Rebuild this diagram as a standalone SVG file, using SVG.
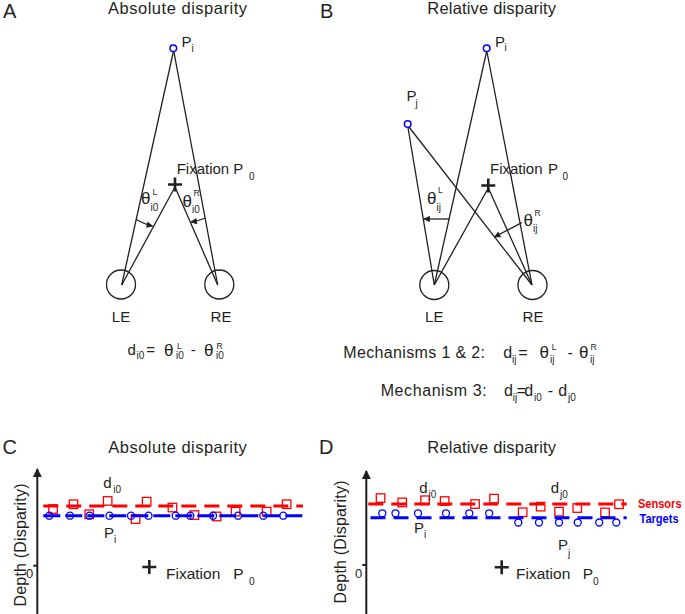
<svg xmlns="http://www.w3.org/2000/svg" width="685" height="614" viewBox="0 0 685 614">
<style>
text{font-family:"Liberation Sans",Arial,sans-serif;fill:#231f20}
.m{font-size:15px}
.ttl{font-size:16.5px}
.th{font-size:17px}
.big{font-size:20px}
.s{font-size:10px}
.sp{font-size:8.5px}
.ln{stroke:#231f20;stroke-width:1.3;fill:none}
.eye{stroke:#231f20;stroke-width:1.3;fill:none}
.cross{stroke:#231f20;stroke-width:2.6}
.pt{stroke:#0000ff;stroke-width:1.5;fill:none}
.sq{stroke:#ff0000;stroke-width:1.3;fill:none}
.tc{stroke:#0000ff;stroke-width:1.3;fill:none}
.rl{stroke:#ff0000;stroke-width:3;stroke-dasharray:15 8}
.bl{stroke:#0000ff;stroke-width:3;stroke-dasharray:15 8}
.ax{stroke:#231f20;stroke-width:2}
.leg{font-size:13px;font-weight:bold}
</style>
<defs>
<marker id="ah" viewBox="0 0 10 10" refX="9" refY="5" markerWidth="8" markerHeight="6.5" markerUnits="userSpaceOnUse" orient="auto">
<path d="M0,0 L10,5 L0,10 Z" fill="#231f20"/>
</marker>
<marker id="axh" viewBox="0 0 10 10" refX="9" refY="5" markerWidth="11" markerHeight="9" markerUnits="userSpaceOnUse" orient="auto">
<path d="M0,0 L10,5 L0,10 Z" fill="#231f20"/>
</marker>
</defs>

<!-- Panel A -->
<g id="panelA">
<text class="big" x="3" y="17.5">A</text>
<text class="ttl" x="177.5" y="13.5" text-anchor="middle" textLength="139">Absolute disparity</text>
<g id="connectorsA">
<path class="ln" d="M121.7,285 L173.4,51.5"/>
<path class="ln" d="M217.7,285 L173.8,51.5"/>
<path class="ln" d="M121.7,285 L175,187"/>
<path class="ln" d="M217.7,285 L175,187"/>
<path class="ln" d="M136,219.5 Q144,224 152.5,226" marker-end="url(#ah)"/>
<path class="ln" d="M205.5,218 Q198,221 191,222" marker-end="url(#ah)"/>
</g>
<g id="A_Pi">
<circle class="pt" cx="173.3" cy="48.3" r="3.3"/>
<text class="m" x="181.5" y="46.7">P</text><text class="s" x="191.5" y="52">i</text>
</g>
<g id="A_fix">
<path class="cross" d="M168,184.5 H182 M175,177.5 V191.5"/>
<text class="m" x="176.7" y="174">Fixation</text>
<text class="m" x="233.3" y="174">P</text><text class="s" x="249" y="180">0</text>
</g>
<g id="A_thetaL">
<text class="th" x="141" y="203.5">θ</text>
<text class="sp" x="152.5" y="195">L</text>
<text class="s" x="150.5" y="210.5">i0</text>
</g>
<g id="A_thetaR">
<text class="th" x="182.5" y="207">θ</text>
<text class="sp" x="193.5" y="195.5">R</text>
<text class="s" x="192" y="213">i0</text>
</g>
<g id="A_LE"><circle class="eye" cx="121" cy="284.5" r="14.5"/><text class="m" x="121" y="321.7" text-anchor="middle">LE</text></g>
<g id="A_RE"><circle class="eye" cx="219.3" cy="284.5" r="14.5"/><text class="m" x="221" y="321.7" text-anchor="middle">RE</text></g>
<g id="A_formula">
<text class="m" x="127.5" y="355">d</text><text class="s" x="136.5" y="358.5">i0</text>
<text class="m" x="146.3" y="355">=</text>
<text class="th" x="164" y="355.5">θ</text><text class="sp" x="177" y="349">L</text><text class="s" x="176" y="359">i0</text>
<text class="m" x="190.8" y="355">-</text>
<text class="th" x="204" y="355.5">θ</text><text class="sp" x="216.5" y="349">R</text><text class="s" x="216" y="359">i0</text>
</g>
</g>

<!-- Panel B -->
<g id="panelB">
<text class="big" x="320" y="17.5">B</text>
<text class="ttl" x="491.7" y="13.5" text-anchor="middle" textLength="128.7">Relative disparity</text>
<g id="connectorsB">
<path class="ln" d="M434.3,285 L407.9,127"/>
<path class="ln" d="M434.3,285 L486.6,51.5"/>
<path class="ln" d="M434.3,285 L488.3,188"/>
<path class="ln" d="M532,285 L409,127"/>
<path class="ln" d="M532,285 L486.9,51.5"/>
<path class="ln" d="M532,285 L488.3,188"/>
<path class="ln" d="M449.3,219 L424,219" marker-end="url(#ah)"/>
<path class="ln" d="M521.7,222.7 L494.5,237" marker-end="url(#ah)"/>
</g>
<g id="B_Pi">
<circle class="pt" cx="486.7" cy="48.3" r="3.3"/>
<text class="m" x="495" y="46.5">P</text><text class="s" x="504.5" y="51">i</text>
</g>
<g id="B_Pj">
<circle class="pt" cx="407.7" cy="124" r="3.3"/>
<text class="m" x="406.5" y="101">P</text><text class="s" x="415.5" y="106.5">j</text>
</g>
<g id="B_fix">
<path class="cross" d="M481.3,185.5 H495.3 M488.3,178.5 V192.5"/>
<text class="m" x="490" y="173.5">Fixation</text>
<text class="m" x="548" y="173.5">P</text><text class="s" x="562.5" y="180">0</text>
</g>
<g id="B_thetaL">
<text class="th" x="427" y="203.5">θ</text>
<text class="sp" x="438" y="193">L</text>
<text class="s" x="436.5" y="210.5">ij</text>
</g>
<g id="B_thetaR">
<text class="th" x="523.5" y="225.5">θ</text>
<text class="sp" x="534.5" y="216.3">R</text>
<text class="s" x="533" y="232">ij</text>
</g>
<g id="B_LE"><circle class="eye" cx="434.3" cy="285" r="14.5"/><text class="m" x="434.3" y="321.7" text-anchor="middle">LE</text></g>
<g id="B_RE"><circle class="eye" cx="532.5" cy="285" r="14.5"/><text class="m" x="533" y="321.7" text-anchor="middle">RE</text></g>
<g id="B_formulas">
<text class="m" x="343.3" y="357.7" style="font-size:16px" textLength="141.7">Mechanisms 1 &amp; 2:</text>
<text class="m" x="503.3" y="357.7" style="font-size:16px">d</text><text class="s" x="512" y="363">ij</text>
<text class="m" x="518.3" y="357.7" style="font-size:16px">=</text>
<text class="th" x="539.5" y="358">θ</text><text class="sp" x="551.7" y="349.5">L</text><text class="s" x="550" y="363">ij</text>
<text class="m" x="567.5" y="357.7" style="font-size:16px">-</text>
<text class="th" x="579" y="358">θ</text><text class="sp" x="590.5" y="349.5">R</text><text class="s" x="590" y="363">ij</text>
<text class="m" x="380.7" y="396" style="font-size:16px" textLength="106">Mechanism 3:</text>
<text class="m" x="504" y="396" style="font-size:16px">d</text><text class="s" x="512.7" y="400.5">ij</text>
<text class="m" x="516.5" y="396" style="font-size:16px">=</text>
<text class="m" x="524.3" y="396" style="font-size:16px">d</text><text class="s" x="534" y="400.5">i0</text>
<text class="m" x="547.8" y="396" style="font-size:16px">-</text>
<text class="m" x="558.3" y="396" style="font-size:16px">d</text><text class="s" x="568" y="400.5">j0</text>
</g>
</g>

<!-- Panel C -->
<g id="panelC">
<text class="big" x="2.5" y="454">C</text>
<text class="ttl" x="177.5" y="453.3" text-anchor="middle" textLength="138.4">Absolute disparity</text>
<g id="C_axis">
<path class="ax" d="M37.3,614 V469" marker-end="url(#axh)"/>
<path class="ax" d="M33.3,565.7 H37.3"/>
<text class="m" x="26" y="578.3" style="font-size:13px">0</text>
<text class="m" transform="translate(25.5,545) rotate(-90)" text-anchor="middle" style="font-size:16px" textLength="123">Depth (Disparity)</text>
</g>
<g id="C_sensors">
<path class="rl" d="M43.3,506 H303"/>
<rect class="sq" x="48.8" y="504.8" width="8.5" height="8.5"/>
<rect class="sq" x="69.3" y="500" width="8.5" height="8.5"/>
<rect class="sq" x="85" y="510" width="8.5" height="8.5"/>
<rect class="sq" x="103.4" y="496.7" width="8.5" height="8.5"/>
<rect class="sq" x="131.3" y="514.8" width="8.5" height="8.5"/>
<rect class="sq" x="142.4" y="497.4" width="8.5" height="8.5"/>
<rect class="sq" x="168.2" y="503.3" width="8.5" height="8.5"/>
<rect class="sq" x="190.2" y="510.8" width="8.5" height="8.5"/>
<rect class="sq" x="212.4" y="512.2" width="8.5" height="8.5"/>
<rect class="sq" x="231.4" y="507.4" width="8.5" height="8.5"/>
<rect class="sq" x="262.4" y="507.4" width="8.5" height="8.5"/>
<rect class="sq" x="282.4" y="500" width="8.5" height="8.5"/>
</g>
<g id="C_targets">
<path class="bl" d="M43.3,515.7 H303.3" style="stroke-dasharray:17 5"/>
<circle class="tc" cx="49.3" cy="515.7" r="3.5"/>
<circle class="tc" cx="70" cy="515.7" r="3.5"/>
<circle class="tc" cx="89.5" cy="515.7" r="3.5"/>
<circle class="tc" cx="109.5" cy="515.7" r="3.5"/>
<circle class="tc" cx="131" cy="515.7" r="3.5"/>
<circle class="tc" cx="148.5" cy="515.7" r="3.5"/>
<circle class="tc" cx="175.7" cy="515.7" r="3.5"/>
<circle class="tc" cx="190.3" cy="515.7" r="3.5"/>
<circle class="tc" cx="213" cy="515.7" r="3.5"/>
<circle class="tc" cx="238" cy="515.7" r="3.5"/>
<circle class="tc" cx="263.3" cy="515.7" r="3.5"/>
<circle class="tc" cx="283.3" cy="515.7" r="3.5"/>
</g>
<text class="m" x="103.3" y="488.3">d</text><text class="s" x="113.3" y="493.3">i0</text>
<text class="m" x="104" y="538.3">P</text><text class="s" x="114" y="543.3">i</text>
<g id="C_fix">
<path class="cross" d="M142.3,567 H156.3 M149.3,560 V574"/>
<text class="m" x="166" y="579.3" style="font-size:15.5px">Fixation</text>
<text class="m" x="233.3" y="579.3" style="font-size:15.5px">P</text><text class="s" x="249" y="585">0</text>
</g>
</g>

<!-- Panel D -->
<g id="panelD">
<text class="big" x="319" y="454">D</text>
<text class="ttl" x="491.7" y="453.3" text-anchor="middle" textLength="128.7">Relative disparity</text>
<g id="D_axis">
<path class="ax" d="M366.3,614 V471" marker-end="url(#axh)"/>
<path class="ax" d="M362.3,565 H366.3"/>
<text class="m" x="355" y="578" style="font-size:13px">0</text>
<text class="m" transform="translate(346,542) rotate(-90)" text-anchor="middle" style="font-size:16px" textLength="123">Depth (Disparity)</text>
</g>
<g id="D_sensors">
<path class="rl" d="M368.3,504 H626.7"/>
<rect class="sq" x="376.3" y="493.8" width="8.5" height="8.5"/>
<rect class="sq" x="398" y="498.2" width="8.5" height="8.5"/>
<rect class="sq" x="420.8" y="496" width="8.5" height="8.5"/>
<rect class="sq" x="440.4" y="496.8" width="8.5" height="8.5"/>
<rect class="sq" x="470.8" y="499.8" width="8.5" height="8.5"/>
<rect class="sq" x="489.8" y="494.4" width="8.5" height="8.5"/>
<rect class="sq" x="518.4" y="508" width="8.5" height="8.5"/>
<rect class="sq" x="536.4" y="502.4" width="8.5" height="8.5"/>
<rect class="sq" x="554.8" y="507.4" width="8.5" height="8.5"/>
<rect class="sq" x="573" y="503.8" width="8.5" height="8.5"/>
<rect class="sq" x="600.8" y="508.2" width="8.5" height="8.5"/>
<rect class="sq" x="614.8" y="500" width="8.5" height="8.5"/>
<text class="leg" transform="translate(638,507.7) scale(0.85,1)" style="fill:#ff0000">Sensors</text>
</g>
<g id="D_targets">
<path class="bl" d="M370.5,517.7 H626.7"/>
<circle class="tc" cx="382.3" cy="513.3" r="3.5"/>
<circle class="tc" cx="395.5" cy="513.3" r="3.5"/>
<circle class="tc" cx="418" cy="513.3" r="3.5"/>
<circle class="tc" cx="446" cy="513.3" r="3.5"/>
<circle class="tc" cx="469.3" cy="513.3" r="3.5"/>
<circle class="tc" cx="489.2" cy="513.3" r="3.5"/>
<circle class="tc" cx="518.3" cy="522.5" r="3.5"/>
<circle class="tc" cx="539" cy="522.5" r="3.5"/>
<circle class="tc" cx="559" cy="522.5" r="3.5"/>
<circle class="tc" cx="577.7" cy="522.5" r="3.5"/>
<circle class="tc" cx="599.2" cy="522.5" r="3.5"/>
<circle class="tc" cx="616.3" cy="522.5" r="3.5"/>
<text class="leg" transform="translate(639.5,522.7) scale(0.85,1)" style="fill:#0000ff">Targets</text>
</g>
<text class="m" x="419.3" y="492.5">d</text><text class="s" x="428.5" y="497.5">j0</text>
<text class="m" x="550.7" y="493.3">d</text><text class="s" x="560" y="498">j0</text>
<text class="m" x="414" y="533.3">P</text><text class="s" x="424" y="538">i</text>
<text class="m" x="558" y="550">P</text><text class="s" x="568" y="556.5">j</text>
<g id="D_fix">
<path class="cross" d="M494.7,567.3 H508.7 M501.7,560.3 V574.3"/>
<text class="m" x="516" y="579.3" style="font-size:15.5px">Fixation</text>
<text class="m" x="582.7" y="579.3" style="font-size:15.5px">P</text><text class="s" x="593" y="585">0</text>
</g>
</g>
</svg>
